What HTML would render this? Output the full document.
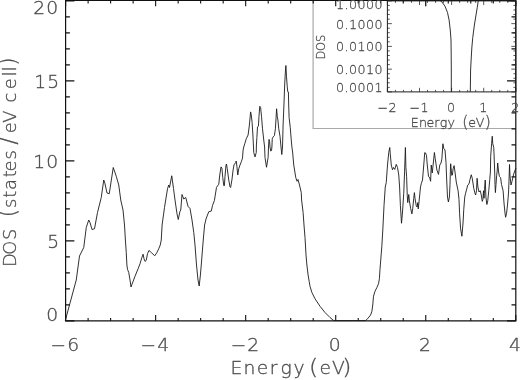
<!DOCTYPE html>
<html lang="en"><head><meta charset="utf-8"><title>DOS plot</title>
<style>
html,body{margin:0;padding:0;background:#fff;}
svg{display:block;}
text{font-family:"DejaVu Sans Light","DejaVu Sans","Liberation Sans",sans-serif;font-weight:200;fill:#4c4c4c;stroke:#4c4c4c;stroke-width:0.3px;}
.t1{font-size:17px;letter-spacing:1.1px;}
.t2{font-size:12.6px;letter-spacing:0.35px;}
</style></head><body>
<svg width="520" height="380" viewBox="0 0 520 380">
<rect x="0" y="0" width="520" height="380" fill="#fff"/>
<path d="M313.1 0 V128.5 H516" fill="none" stroke="#a8a8a8" stroke-width="1.2"/>
<path d="M65.6 0.5 H515.8 V320.9 H65.6 Z" fill="none" stroke="#111" stroke-width="1.2"/>
<path d="M65.60 320.9 v-5.8 M65.60 0.5 v5.8 M88.11 320.9 v-2.9 M88.11 0.5 v2.9 M110.62 320.9 v-2.9 M110.62 0.5 v2.9 M133.13 320.9 v-2.9 M133.13 0.5 v2.9 M155.64 320.9 v-5.8 M155.64 0.5 v5.8 M178.15 320.9 v-2.9 M178.15 0.5 v2.9 M200.66 320.9 v-2.9 M200.66 0.5 v2.9 M223.17 320.9 v-2.9 M223.17 0.5 v2.9 M245.68 320.9 v-5.8 M245.68 0.5 v5.8 M268.19 320.9 v-2.9 M268.19 0.5 v2.9 M290.70 320.9 v-2.9 M290.70 0.5 v2.9 M313.21 320.9 v-2.9 M313.21 0.5 v2.9 M335.72 320.9 v-5.8 M335.72 0.5 v5.8 M358.23 320.9 v-2.9 M358.23 0.5 v2.9 M380.74 320.9 v-2.9 M380.74 0.5 v2.9 M403.25 320.9 v-2.9 M403.25 0.5 v2.9 M425.76 320.9 v-5.8 M425.76 0.5 v5.8 M448.27 320.9 v-2.9 M448.27 0.5 v2.9 M470.78 320.9 v-2.9 M470.78 0.5 v2.9 M493.29 320.9 v-2.9 M493.29 0.5 v2.9 M515.80 320.9 v-5.8 M515.80 0.5 v5.8 M65.6 320.90 h8.8 M515.8 320.90 h-8.8 M65.6 304.90 h4.3 M515.8 304.90 h-4.3 M65.6 288.90 h4.3 M515.8 288.90 h-4.3 M65.6 272.90 h4.3 M515.8 272.90 h-4.3 M65.6 256.90 h4.3 M515.8 256.90 h-4.3 M65.6 240.90 h8.8 M515.8 240.90 h-8.8 M65.6 224.90 h4.3 M515.8 224.90 h-4.3 M65.6 208.90 h4.3 M515.8 208.90 h-4.3 M65.6 192.90 h4.3 M515.8 192.90 h-4.3 M65.6 176.90 h4.3 M515.8 176.90 h-4.3 M65.6 160.90 h8.8 M515.8 160.90 h-8.8 M65.6 144.90 h4.3 M515.8 144.90 h-4.3 M65.6 128.90 h4.3 M515.8 128.90 h-4.3 M65.6 112.90 h4.3 M515.8 112.90 h-4.3 M65.6 96.90 h4.3 M515.8 96.90 h-4.3 M65.6 80.90 h8.8 M515.8 80.90 h-8.8 M65.6 64.90 h4.3 M515.8 64.90 h-4.3 M65.6 48.90 h4.3 M515.8 48.90 h-4.3 M65.6 32.90 h4.3 M515.8 32.90 h-4.3 M65.6 16.90 h4.3 M515.8 16.90 h-4.3 M65.6 0.90 h8.8 M515.8 0.90 h-8.8" fill="none" stroke="#111" stroke-width="1.1"/>
<path d="M65.30 320.50 L76.25 280.00 L79.50 256.00 L83.75 247.50 L86.25 227.50 L88.75 220.00 L90.00 222.50 L92.00 229.50 L94.50 228.75 L97.50 212.50 L101.25 197.50 L103.75 180.00 L105.00 183.75 L107.00 193.00 L109.25 193.75 L113.25 167.50 L116.25 176.25 L118.75 185.00 L120.75 200.00 L123.00 210.00 L124.50 225.00 L125.40 240.00 L126.25 252.50 L126.90 265.00 L127.50 269.40 L128.75 272.50 L130.00 280.00 L131.00 287.00 L135.00 276.25 L138.10 268.75 L140.00 263.75 L141.90 257.50 L143.10 254.20 L144.00 258.75 L145.00 261.40 L146.25 260.30 L147.50 253.75 L149.00 250.40 L151.25 252.50 L154.75 255.80 L156.90 252.50 L158.75 248.75 L160.25 245.00 L161.25 240.00 L162.10 225.00 L164.50 207.50 L167.50 188.75 L168.75 185.00 L169.50 187.50 L171.75 175.75 L173.50 188.50 L175.00 200.00 L177.00 213.75 L178.25 219.50 L180.00 211.25 L180.75 210.00 L182.00 194.50 L183.75 199.00 L185.75 197.50 L188.00 206.25 L190.00 208.50 L192.00 220.00 L193.75 232.50 L195.00 245.00 L196.50 265.00 L198.00 280.00 L199.20 286.00 L200.40 275.00 L201.50 262.00 L202.60 248.00 L203.70 235.00 L204.60 225.00 L206.00 219.00 L207.50 215.00 L208.75 211.75 L211.25 211.10 L212.50 205.50 L214.40 200.50 L215.60 193.00 L216.50 187.40 L218.75 184.25 L219.75 175.00 L221.00 166.90 L221.90 168.10 L222.75 177.50 L223.75 185.60 L224.40 185.60 L225.00 176.25 L226.00 165.00 L226.50 164.00 L227.25 168.75 L228.75 180.00 L230.00 186.90 L230.60 187.50 L231.90 180.00 L233.10 170.00 L234.10 164.40 L235.00 163.75 L235.60 162.50 L236.25 161.00 L236.90 166.25 L237.75 175.00 L238.75 168.75 L240.00 165.00 L241.50 161.25 L242.50 158.10 L243.10 150.00 L243.75 147.00 L244.75 143.75 L246.25 138.75 L248.10 135.00 L249.40 125.00 L250.60 111.90 L251.25 115.00 L252.10 122.50 L252.90 135.00 L253.50 147.00 L253.75 152.50 L255.00 156.90 L256.25 152.50 L256.40 145.00 L256.90 137.50 L257.50 126.90 L258.40 126.25 L259.00 116.25 L259.75 106.25 L260.60 107.50 L261.50 116.25 L262.50 128.75 L263.75 140.00 L264.60 147.00 L265.00 157.50 L266.50 167.25 L268.10 157.50 L268.50 147.00 L269.00 139.40 L269.60 141.25 L270.00 147.00 L270.70 151.00 L271.50 150.60 L271.90 147.00 L272.25 138.75 L273.10 136.90 L274.40 135.60 L275.40 128.75 L276.00 118.75 L276.60 108.75 L277.25 116.25 L277.90 120.00 L278.75 128.75 L280.00 136.25 L281.00 147.00 L281.80 154.50 L282.50 147.00 L283.10 125.00 L284.00 103.00 L284.75 83.00 L285.60 68.00 L285.90 65.50 L286.50 76.75 L287.25 86.75 L287.75 91.75 L288.40 92.00 L288.70 105.00 L289.10 117.50 L290.25 127.50 L291.25 140.00 L291.90 147.00 L292.60 152.00 L293.75 165.00 L295.75 177.50 L297.00 181.25 L298.00 179.50 L299.50 185.00 L301.25 192.50 L301.60 200.00 L303.10 212.50 L304.00 225.00 L305.00 237.50 L305.50 246.00 L306.00 255.00 L306.90 265.00 L308.10 275.00 L309.20 281.50 L310.00 286.25 L311.90 292.50 L315.00 298.75 L320.00 306.25 L325.00 312.50 L330.00 317.50 L333.75 320.60 L365.60 320.60 L368.10 318.10 L370.60 315.00 L371.90 311.25 L372.75 305.00 L373.50 296.25 L375.00 291.25 L376.90 287.50 L378.50 283.75 L379.40 278.75 L380.00 269.25 L381.80 246.75 L382.80 230.00 L384.00 205.75 L385.25 187.00 L386.25 182.50 L387.50 165.00 L388.75 152.50 L389.75 147.50 L390.25 153.75 L391.25 165.00 L392.50 169.75 L393.50 167.50 L394.75 169.40 L396.25 164.40 L397.50 167.50 L398.75 175.00 L399.60 187.00 L400.40 205.75 L401.50 223.25 L402.50 212.00 L403.75 193.25 L404.60 171.25 L405.40 147.50 L405.90 167.50 L406.60 176.25 L407.25 195.75 L407.75 202.60 L408.75 194.50 L409.40 200.75 L410.60 208.25 L411.90 213.90 L412.75 208.25 L413.75 198.25 L414.40 192.60 L415.00 198.25 L416.25 205.75 L417.10 207.00 L417.75 202.60 L418.25 208.90 L419.00 202.00 L420.00 192.00 L420.50 187.00 L421.25 183.75 L422.50 180.00 L423.75 165.00 L424.75 152.50 L425.60 153.00 L426.50 155.60 L427.25 165.00 L428.50 176.25 L429.75 178.00 L430.60 181.25 L431.25 165.00 L432.25 173.00 L433.10 165.00 L434.40 152.50 L435.25 158.75 L436.90 170.00 L438.50 174.40 L439.75 165.00 L441.00 163.00 L441.90 158.75 L442.90 143.75 L443.75 148.50 L445.00 150.00 L446.00 162.50 L446.60 178.00 L447.50 197.00 L448.40 202.00 L449.40 197.00 L450.00 184.50 L450.50 166.00 L450.70 163.75 L451.25 170.00 L451.75 175.50 L452.40 175.00 L453.10 168.75 L454.10 165.60 L455.00 172.00 L456.25 182.00 L458.10 190.75 L459.00 199.50 L459.60 213.75 L460.60 228.75 L461.90 236.25 L463.10 222.00 L463.75 209.50 L464.75 197.00 L465.60 193.25 L466.90 188.25 L467.75 185.00 L469.00 183.90 L470.00 179.50 L471.25 174.75 L472.25 178.25 L473.75 188.25 L474.75 192.60 L475.60 195.00 L476.50 190.75 L477.10 178.25 L477.90 187.00 L479.00 192.00 L480.25 190.75 L481.25 195.00 L482.25 201.40 L482.90 199.50 L483.50 190.75 L484.00 198.25 L484.50 189.50 L485.25 180.00 L485.90 197.00 L486.90 204.50 L487.75 200.75 L488.75 190.75 L489.75 179.50 L490.40 172.00 L490.70 156.25 L491.60 143.75 L492.25 136.25 L492.75 143.75 L493.75 147.50 L494.10 156.00 L494.70 172.00 L495.00 184.50 L495.40 192.60 L496.00 184.50 L496.60 175.75 L497.10 172.00 L497.70 163.00 L498.60 172.00 L499.40 176.40 L500.60 177.60 L501.50 184.50 L503.10 190.75 L504.00 203.00 L505.00 213.00 L505.60 217.25 L506.50 213.75 L507.50 205.00 L508.50 193.00 L509.00 181.00 L509.50 164.50 L510.00 176.00 L511.00 185.00 L512.00 181.30 L513.70 174.00 L515.25 169.70 L516.00 168.00" fill="none" stroke="#1a1a1a" stroke-width="0.9" stroke-linejoin="round"/>
<path d="M387.4 0.9 H515.8 V91.9 H387.4 Z" fill="none" stroke="#1c1c1c" stroke-width="1"/>
<path d="M387.40 91.9 v-4.1 M387.40 0.9 v4.1 M395.42 91.9 v-2.0 M395.42 0.9 v2.0 M403.45 91.9 v-2.0 M403.45 0.9 v2.0 M411.47 91.9 v-2.0 M411.47 0.9 v2.0 M419.50 91.9 v-4.1 M419.50 0.9 v4.1 M427.52 91.9 v-2.0 M427.52 0.9 v2.0 M435.55 91.9 v-2.0 M435.55 0.9 v2.0 M443.57 91.9 v-2.0 M443.57 0.9 v2.0 M451.60 91.9 v-4.1 M451.60 0.9 v4.1 M459.62 91.9 v-2.0 M459.62 0.9 v2.0 M467.65 91.9 v-2.0 M467.65 0.9 v2.0 M475.67 91.9 v-2.0 M475.67 0.9 v2.0 M483.70 91.9 v-4.1 M483.70 0.9 v4.1 M491.72 91.9 v-2.0 M491.72 0.9 v2.0 M499.75 91.9 v-2.0 M499.75 0.9 v2.0 M507.77 91.9 v-2.0 M507.77 0.9 v2.0 M515.80 91.9 v-4.1 M515.80 0.9 v4.1 M387.4 0.90 h4.5 M515.8 0.90 h-4.5 M387.4 5.45 h2.4 M515.8 5.45 h-2.4 M387.4 10.00 h2.4 M515.8 10.00 h-2.4 M387.4 14.55 h2.4 M515.8 14.55 h-2.4 M387.4 19.10 h2.4 M515.8 19.10 h-2.4 M387.4 23.65 h4.5 M515.8 23.65 h-4.5 M387.4 28.20 h2.4 M515.8 28.20 h-2.4 M387.4 32.75 h2.4 M515.8 32.75 h-2.4 M387.4 37.30 h2.4 M515.8 37.30 h-2.4 M387.4 41.85 h2.4 M515.8 41.85 h-2.4 M387.4 46.40 h4.5 M515.8 46.40 h-4.5 M387.4 50.95 h2.4 M515.8 50.95 h-2.4 M387.4 55.50 h2.4 M515.8 55.50 h-2.4 M387.4 60.05 h2.4 M515.8 60.05 h-2.4 M387.4 64.60 h2.4 M515.8 64.60 h-2.4 M387.4 69.15 h4.5 M515.8 69.15 h-4.5 M387.4 73.70 h2.4 M515.8 73.70 h-2.4 M387.4 78.25 h2.4 M515.8 78.25 h-2.4 M387.4 82.80 h2.4 M515.8 82.80 h-2.4 M387.4 87.35 h2.4 M515.8 87.35 h-2.4 M387.4 91.90 h4.5 M515.8 91.90 h-4.5 M425.6 1 v5.2" fill="none" stroke="#222" stroke-width="0.75"/>
<path d="M440.30 0.90 L441.90 1.90 L445.00 6.25 L447.50 12.50 L449.10 20.00 L450.25 30.00 L451.00 40.00 L451.20 55.00 L451.30 70.00 L451.30 91.90 M470.30 91.90 L470.60 70.00 L471.40 55.00 L471.90 47.00 L472.75 37.50 L474.40 25.00 L476.00 15.00 L477.25 7.50 L478.10 1.90 L478.30 0.90" fill="none" stroke="#1a1a1a" stroke-width="0.9"/>
<text class="t1" transform="translate(65.3 350.6) scale(1.1 1)" text-anchor="middle">−6</text>
<text class="t1" transform="translate(155.3 350.6) scale(1.1 1)" text-anchor="middle">−4</text>
<text class="t1" transform="translate(245.4 350.6) scale(1.1 1)" text-anchor="middle">−2</text>
<text class="t1" transform="translate(335.4 350.6) scale(1.1 1)" text-anchor="middle">0</text>
<text class="t1" transform="translate(425.5 350.6) scale(1.1 1)" text-anchor="middle">2</text>
<text class="t1" transform="translate(515.5 350.6) scale(1.1 1)" text-anchor="middle">4</text>
<text class="t1" transform="translate(59.4 321.3) scale(1.1 1)" text-anchor="end">0</text>
<text class="t1" transform="translate(60.4 248.3) scale(1.1 1)" text-anchor="end">5</text>
<text class="t1" transform="translate(59.4 168.3) scale(1.1 1)" text-anchor="end">10</text>
<text class="t1" transform="translate(60.4 88.3) scale(1.1 1)" text-anchor="end">15</text>
<text class="t1" transform="translate(59.4 13.9) scale(1.1 1)" text-anchor="end">20</text>
<text class="t1" transform="translate(230.0 373.8) scale(1.1 1.0)" x="0.4 12.2 24.3 36.1 46.0 57.7 72.9 71.9 81.3 92.8 102.0" y="0" style="letter-spacing:0">Energy <tspan style="font-size:21.5px">(</tspan>eV<tspan style="font-size:21.5px">)</tspan></text>
<text class="t1" transform="translate(16.2 264.7) rotate(-90) scale(1.05 1.08)" x="-2.3 9.6 23.5 39.4 45.3 53.9 63.7 71.2 83.2 88.8 100.2 114.4 125.3 135.2 151.9 154.6 167.0 179.5 184.3 189.5" y="0" style="letter-spacing:0">DOS <tspan style="font-size:20.5px">(</tspan>states<tspan style="font-size:20.5px">/</tspan>eV cell<tspan style="font-size:20.5px">)</tspan></text>
<text class="t2" transform="translate(383.0 9.0) scale(1.0 1)" text-anchor="end" style="letter-spacing:0.5px">1.0000</text>
<text class="t2" transform="translate(383.0 28.5) scale(1.0 1)" text-anchor="end" style="letter-spacing:0.5px">0.1000</text>
<text class="t2" transform="translate(383.0 51.3) scale(1.0 1)" text-anchor="end" style="letter-spacing:0.5px">0.0100</text>
<text class="t2" transform="translate(383.0 74.1) scale(1.0 1)" text-anchor="end" style="letter-spacing:0.5px">0.0010</text>
<text class="t2" transform="translate(383.0 92.0) scale(1.0 1)" text-anchor="end" style="letter-spacing:0.5px">0.0001</text>
<text class="t2" transform="translate(387.1 112.2) scale(1.0 1)" text-anchor="middle">−2</text>
<text class="t2" transform="translate(419.2 112.2) scale(1.0 1)" text-anchor="middle">−1</text>
<text class="t2" transform="translate(451.3 112.2) scale(1.0 1)" text-anchor="middle">0</text>
<text class="t2" transform="translate(483.4 112.2) scale(1.0 1)" text-anchor="middle">1</text>
<text class="t2" transform="translate(515.5 112.2) scale(1.0 1)" text-anchor="middle">2</text>
<text class="t2" transform="translate(410.0 127.3) scale(1.0 1.0)" x="0.8 9.0 16.6 24.2 29.7 37.6 48.8 52.3 58.2 65.7 74.8" y="0" style="letter-spacing:0">Energy <tspan style="font-size:15.5px">(</tspan>eV<tspan style="font-size:15.5px">)</tspan></text>
<text class="t2" transform="translate(324.6 47.2) rotate(-90) scale(0.9 1)" text-anchor="middle" style="letter-spacing:0.0px">DOS</text>
</svg>
</body></html>
